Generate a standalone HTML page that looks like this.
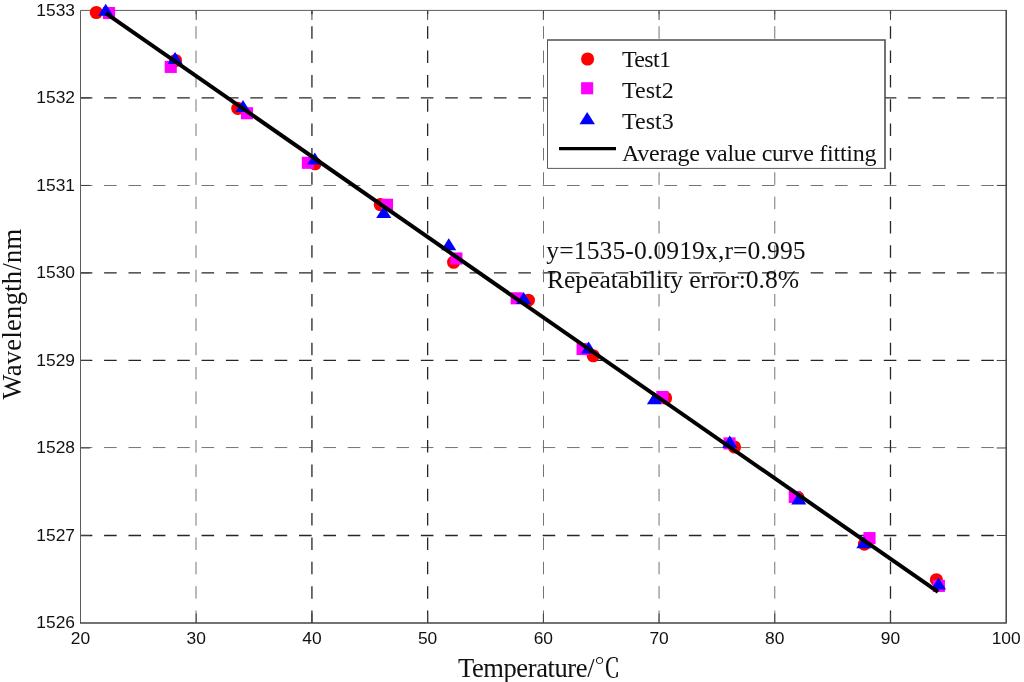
<!DOCTYPE html>
<html lang="en">
<head>
<meta charset="utf-8">
<title>Wavelength vs Temperature</title>
<style>
html,body{margin:0;padding:0;background:#fff;}
body{width:1024px;height:682px;overflow:hidden;position:relative;}
svg{position:absolute;left:0;top:0;display:block;}
.tick{font-family:"Liberation Sans",Arial,sans-serif;font-size:17.4px;fill:#111;}
.ser{font-family:"Liberation Serif","Noto Serif CJK SC",serif;fill:#111;}
</style>
</head>
<body>
<svg width="1024" height="682" viewBox="0 0 1024 682">
<rect x="0" y="0" width="1024" height="682" fill="#ffffff"/>

<g stroke-width="1" fill="none">
<line x1="80.5" y1="535.49" x2="1006.2" y2="535.49" stroke="#262626" stroke-width="1.3" stroke-dasharray="12.6 11.765" stroke-dashoffset="0.77"/>
<line x1="80.5" y1="447.55" x2="1006.2" y2="447.55" stroke="#747474" stroke-width="1" stroke-dasharray="12.6 11.765" stroke-dashoffset="0.77"/>
<line x1="80.5" y1="360.46" x2="1006.2" y2="360.46" stroke="#262626" stroke-width="1.3" stroke-dasharray="12.6 11.765" stroke-dashoffset="0.77"/>
<line x1="80.5" y1="272.94" x2="1006.2" y2="272.94" stroke="#262626" stroke-width="1.3" stroke-dasharray="12.6 11.765" stroke-dashoffset="0.77"/>
<line x1="80.5" y1="185.50" x2="1006.2" y2="185.50" stroke="#747474" stroke-width="1" stroke-dasharray="12.6 11.765" stroke-dashoffset="0.77"/>
<line x1="80.5" y1="97.91" x2="1006.2" y2="97.91" stroke="#262626" stroke-width="1.3" stroke-dasharray="12.6 11.765" stroke-dashoffset="0.77"/>
<line x1="196.00" y1="623.0" x2="196.00" y2="10.4" stroke="#747474" stroke-width="1" stroke-dasharray="12.5 11.845"/>
<line x1="311.93" y1="623.0" x2="311.93" y2="10.4" stroke="#262626" stroke-width="1.3" stroke-dasharray="12.5 11.845"/>
<line x1="427.64" y1="623.0" x2="427.64" y2="10.4" stroke="#262626" stroke-width="1.3" stroke-dasharray="12.5 11.845"/>
<line x1="543.50" y1="623.0" x2="543.50" y2="10.4" stroke="#747474" stroke-width="1" stroke-dasharray="12.5 11.845"/>
<line x1="659.06" y1="623.0" x2="659.06" y2="10.4" stroke="#747474" stroke-width="1" stroke-dasharray="12.5 11.845"/>
<line x1="774.77" y1="623.0" x2="774.77" y2="10.4" stroke="#747474" stroke-width="1" stroke-dasharray="12.5 11.845"/>
<line x1="890.49" y1="623.0" x2="890.49" y2="10.4" stroke="#262626" stroke-width="1.3" stroke-dasharray="12.5 11.845"/>
</g>
<g stroke="#404040" stroke-width="1" fill="none">
<path d="M80.5 535.49h9.5M1006.2 535.49h-9.5"/>
<path d="M80.5 447.97h9.5M1006.2 447.97h-9.5"/>
<path d="M80.5 360.46h9.5M1006.2 360.46h-9.5"/>
<path d="M80.5 272.94h9.5M1006.2 272.94h-9.5"/>
<path d="M80.5 185.43h9.5M1006.2 185.43h-9.5"/>
<path d="M80.5 97.91h9.5M1006.2 97.91h-9.5"/>
<path d="M196.21 623.0v-9.5M196.21 10.4v9.5"/>
<path d="M311.93 623.0v-9.5M311.93 10.4v9.5"/>
<path d="M427.64 623.0v-9.5M427.64 10.4v9.5"/>
<path d="M543.35 623.0v-9.5M543.35 10.4v9.5"/>
<path d="M659.06 623.0v-9.5M659.06 10.4v9.5"/>
<path d="M774.77 623.0v-9.5M774.77 10.4v9.5"/>
<path d="M890.49 623.0v-9.5M890.49 10.4v9.5"/>
</g>
<path d="M80.5 623.0V10.4H1006.2" fill="none" stroke="#5c5c5c" stroke-width="1"/>
<path d="M80.0 623.0H1006.2V9.9" fill="none" stroke="#444" stroke-width="1.5" stroke-linejoin="round"/>
<g fill="#ff0000">
<circle cx="96.3" cy="12.5" r="6.55"/>
<circle cx="175.5" cy="60.5" r="6.55"/>
<circle cx="237.75" cy="108.4" r="6.55"/>
<circle cx="315.1" cy="163.75" r="6.55"/>
<circle cx="380.25" cy="204.6" r="6.55"/>
<circle cx="453.6" cy="262.25" r="6.55"/>
<circle cx="528.4" cy="300.2" r="6.55"/>
<circle cx="593.25" cy="355.75" r="6.55"/>
<circle cx="665.6" cy="398" r="6.55"/>
<circle cx="734.5" cy="447" r="6.55"/>
<circle cx="797.9" cy="497.5" r="6.55"/>
<circle cx="864.4" cy="544.1" r="6.55"/>
<circle cx="936.4" cy="579.7" r="6.55"/>
</g><g fill="#ff00ff">
<rect x="103.00" y="7.00" width="12.1" height="12.1"/>
<rect x="164.70" y="60.85" width="12.1" height="12.1"/>
<rect x="240.95" y="107.20" width="12.1" height="12.1"/>
<rect x="301.85" y="156.75" width="12.1" height="12.1"/>
<rect x="380.95" y="198.70" width="12.1" height="12.1"/>
<rect x="450.35" y="252.45" width="12.1" height="12.1"/>
<rect x="510.65" y="292.25" width="12.1" height="12.1"/>
<rect x="576.55" y="343.05" width="12.1" height="12.1"/>
<rect x="656.35" y="390.95" width="12.1" height="12.1"/>
<rect x="723.45" y="437.35" width="12.1" height="12.1"/>
<rect x="788.70" y="490.95" width="12.1" height="12.1"/>
<rect x="863.45" y="532.05" width="12.1" height="12.1"/>
<rect x="932.85" y="579.85" width="12.1" height="12.1"/>
</g><g fill="#0000ff">
<path d="M105.70 3.80L113.25 15.85L98.15 15.85Z"/>
<path d="M175.10 51.90L182.65 63.95L167.55 63.95Z"/>
<path d="M243.00 99.90L250.55 111.95L235.45 111.95Z"/>
<path d="M314.75 152.40L322.30 164.45L307.20 164.45Z"/>
<path d="M383.75 206.00L391.30 218.05L376.20 218.05Z"/>
<path d="M448.75 238.30L456.30 250.35L441.20 250.35Z"/>
<path d="M523.60 292.00L531.15 304.05L516.05 304.05Z"/>
<path d="M588.60 341.50L596.15 353.55L581.05 353.55Z"/>
<path d="M654.50 392.10L662.05 404.15L646.95 404.15Z"/>
<path d="M729.75 435.60L737.30 447.65L722.20 447.65Z"/>
<path d="M798.75 492.50L806.30 504.55L791.20 504.55Z"/>
<path d="M863.90 536.20L871.45 548.25L856.35 548.25Z"/>
<path d="M938.50 577.40L946.05 589.45L930.95 589.45Z"/>
</g>
<line x1="106" y1="13.3" x2="938.05" y2="591.85" stroke="#000" stroke-width="4"/>
<g class="tick" text-anchor="end">
<text x="75" y="628.20">1526</text>
<text x="75" y="540.69">1527</text>
<text x="75" y="453.17">1528</text>
<text x="75" y="365.66">1529</text>
<text x="75" y="278.14">1530</text>
<text x="75" y="190.63">1531</text>
<text x="75" y="103.11">1532</text>
<text x="75" y="15.60">1533</text>
</g><g class="tick" text-anchor="middle">
<text x="80.50" y="644.25">20</text>
<text x="196.21" y="644.25">30</text>
<text x="311.93" y="644.25">40</text>
<text x="427.64" y="644.25">50</text>
<text x="543.35" y="644.25">60</text>
<text x="659.06" y="644.25">70</text>
<text x="774.77" y="644.25">80</text>
<text x="890.49" y="644.25">90</text>
<text x="1006.20" y="644.25">100</text>
</g>
<text class="ser" font-size="26.5" text-anchor="middle" x="539.3" y="676.75" textLength="162.6">Temperature/℃</text>
<text class="ser" font-size="26.5" text-anchor="middle" transform="translate(21 314.1) rotate(-90)" textLength="170.7">Wavelength/nm</text>
<text class="ser" font-size="25.6" x="546.3" y="258.8" textLength="259.3">y=1535-0.0919x,r=0.995</text>
<text class="ser" font-size="25.6" x="547" y="288" textLength="252">Repeatability error:0.8%</text>
<rect x="547.5" y="40" width="337.5" height="128.4" fill="#fff" stroke="none"/>
<path d="M547.5 40V168.4H885" fill="none" stroke="#5a5a5a" stroke-width="1"/>
<path d="M547 40H885V168.9" fill="none" stroke="#505050" stroke-width="1.6"/>
<circle cx="587.6" cy="59" r="6.55" fill="#ff0000"/>
<rect x="581.1" y="82.2" width="12.1" height="12.1" fill="#ff00ff"/>
<path d="M587.2 112L594.95 124.3L579.45 124.3Z" fill="#0000ff"/>
<line x1="559" y1="148.7" x2="616" y2="148.7" stroke="#000" stroke-width="3.2"/>
<g class="ser" font-size="24">
<text x="622" y="67" textLength="49">Test1</text><text x="622" y="98">Test2</text><text x="622" y="129">Test3</text><text x="622" y="160.7" textLength="254.4">Average value curve fitting</text>
</g>
</svg>
</body>
</html>
